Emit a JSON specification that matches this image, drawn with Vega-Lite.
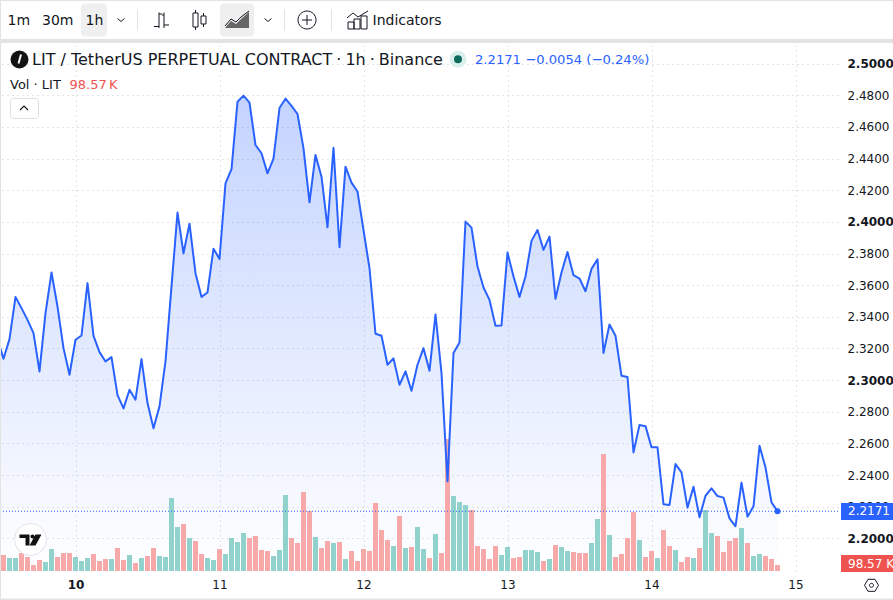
{
"$schema":"https://vega.github.io/schema/vega-lite/v6.json",
"width":838,"height":573,
"autosize":{"type":"none"},
"padding":{"left":0,"top":0,"right":55,"bottom":27},
"background":"#ffffff",
"config":{"view":{"stroke":null},"font":"DejaVu Sans","text":{"font":"DejaVu Sans"}},
"data":{"values":[
{"t":"2026-01-09T11:00Z","p":2.3259},
{"t":"2026-01-09T12:00Z","p":2.3135,"v":263,"s":"d"},{"t":"2026-01-09T13:00Z","p":2.3259,"v":214,"s":"u"},{"t":"2026-01-09T14:00Z","p":2.3526,"v":214,"s":"u"},{"t":"2026-01-09T15:00Z","p":2.3455,"v":296,"s":"d"},{"t":"2026-01-09T16:00Z","p":2.3381,"v":230,"s":"d"},{"t":"2026-01-09T17:00Z","p":2.3297,"v":99,"s":"d"},{"t":"2026-01-09T18:00Z","p":2.3055,"v":181,"s":"d"},{"t":"2026-01-09T19:00Z","p":2.3423,"v":148,"s":"u"},{"t":"2026-01-09T20:00Z","p":2.368,"v":361,"s":"u"},{"t":"2026-01-09T21:00Z","p":2.3465,"v":230,"s":"d"},{"t":"2026-01-09T22:00Z","p":2.3202,"v":296,"s":"d"},{"t":"2026-01-09T23:00Z","p":2.3034,"v":296,"s":"d"},
{"t":"2026-01-10T00:00Z","p":2.3255,"v":230,"s":"u"},{"t":"2026-01-10T01:00Z","p":2.3282,"v":164,"s":"u"},{"t":"2026-01-10T02:00Z","p":2.3613,"v":214,"s":"u"},{"t":"2026-01-10T03:00Z","p":2.328,"v":279,"s":"d"},{"t":"2026-01-10T04:00Z","p":2.3177,"v":164,"s":"d"},{"t":"2026-01-10T05:00Z","p":2.3118,"v":197,"s":"d"},{"t":"2026-01-10T06:00Z","p":2.3145,"v":197,"s":"u"},{"t":"2026-01-10T07:00Z","p":2.2905,"v":378,"s":"d"},{"t":"2026-01-10T08:00Z","p":2.2821,"v":181,"s":"d"},{"t":"2026-01-10T09:00Z","p":2.2939,"v":263,"s":"u"},{"t":"2026-01-10T10:00Z","p":2.2876,"v":131,"s":"d"},{"t":"2026-01-10T11:00Z","p":2.3133,"v":214,"s":"u"},{"t":"2026-01-10T12:00Z","p":2.2855,"v":246,"s":"d"},{"t":"2026-01-10T13:00Z","p":2.2695,"v":378,"s":"d"},{"t":"2026-01-10T14:00Z","p":2.2834,"v":246,"s":"u"},{"t":"2026-01-10T15:00Z","p":2.3118,"v":230,"s":"u"},{"t":"2026-01-10T16:00Z","p":2.3592,"v":1199,"s":"u"},{"t":"2026-01-10T17:00Z","p":2.4059,"v":723,"s":"u"},{"t":"2026-01-10T18:00Z","p":2.3802,"v":772,"s":"d"},{"t":"2026-01-10T19:00Z","p":2.3989,"v":542,"s":"u"},{"t":"2026-01-10T20:00Z","p":2.3676,"v":493,"s":"d"},{"t":"2026-01-10T21:00Z","p":2.3526,"v":279,"s":"d"},{"t":"2026-01-10T22:00Z","p":2.3554,"v":214,"s":"u"},{"t":"2026-01-10T23:00Z","p":2.3831,"v":181,"s":"u"},
{"t":"2026-01-11T00:00Z","p":2.3766,"v":361,"s":"d"},{"t":"2026-01-11T01:00Z","p":2.4244,"v":279,"s":"u"},{"t":"2026-01-11T02:00Z","p":2.4333,"v":542,"s":"u"},{"t":"2026-01-11T03:00Z","p":2.476,"v":476,"s":"u"},{"t":"2026-01-11T04:00Z","p":2.4798,"v":624,"s":"u"},{"t":"2026-01-11T05:00Z","p":2.4754,"v":542,"s":"d"},{"t":"2026-01-11T06:00Z","p":2.4486,"v":575,"s":"d"},{"t":"2026-01-11T07:00Z","p":2.4434,"v":345,"s":"d"},{"t":"2026-01-11T08:00Z","p":2.4307,"v":329,"s":"d"},{"t":"2026-01-11T09:00Z","p":2.44,"v":246,"s":"u"},{"t":"2026-01-11T10:00Z","p":2.472,"v":345,"s":"u"},{"t":"2026-01-11T11:00Z","p":2.4779,"v":1249,"s":"u"},{"t":"2026-01-11T12:00Z","p":2.4733,"v":542,"s":"d"},{"t":"2026-01-11T13:00Z","p":2.4682,"v":460,"s":"d"},{"t":"2026-01-11T14:00Z","p":2.4465,"v":1298,"s":"d"},{"t":"2026-01-11T15:00Z","p":2.4124,"v":986,"s":"d"},{"t":"2026-01-11T16:00Z","p":2.4423,"v":559,"s":"u"},{"t":"2026-01-11T17:00Z","p":2.4286,"v":378,"s":"d"},{"t":"2026-01-11T18:00Z","p":2.3966,"v":493,"s":"d"},{"t":"2026-01-11T19:00Z","p":2.4469,"v":460,"s":"u"},{"t":"2026-01-11T20:00Z","p":2.384,"v":476,"s":"d"},{"t":"2026-01-11T21:00Z","p":2.4349,"v":197,"s":"u"},{"t":"2026-01-11T22:00Z","p":2.4248,"v":329,"s":"d"},{"t":"2026-01-11T23:00Z","p":2.4192,"v":164,"s":"d"},
{"t":"2026-01-12T00:00Z","p":2.3949,"v":361,"s":"d"},{"t":"2026-01-12T01:00Z","p":2.3707,"v":329,"s":"d"},{"t":"2026-01-12T02:00Z","p":2.3293,"v":1117,"s":"d"},{"t":"2026-01-12T03:00Z","p":2.328,"v":674,"s":"d"},{"t":"2026-01-12T04:00Z","p":2.3097,"v":509,"s":"d"},{"t":"2026-01-12T05:00Z","p":2.3137,"v":411,"s":"u"},{"t":"2026-01-12T06:00Z","p":2.297,"v":904,"s":"d"},{"t":"2026-01-12T07:00Z","p":2.3055,"v":378,"s":"u"},{"t":"2026-01-12T08:00Z","p":2.2933,"v":394,"s":"d"},{"t":"2026-01-12T09:00Z","p":2.3097,"v":723,"s":"u"},{"t":"2026-01-12T10:00Z","p":2.3202,"v":361,"s":"u"},{"t":"2026-01-12T11:00Z","p":2.3059,"v":214,"s":"d"},{"t":"2026-01-12T12:00Z","p":2.3415,"v":608,"s":"u"},{"t":"2026-01-12T13:00Z","p":2.3044,"v":296,"s":"d"},{"t":"2026-01-12T14:00Z","p":2.236,"v":2168,"s":"d"},{"t":"2026-01-12T15:00Z","p":2.3171,"v":1232,"s":"u"},{"t":"2026-01-12T16:00Z","p":2.3238,"v":1134,"s":"u"},{"t":"2026-01-12T17:00Z","p":2.4002,"v":1084,"s":"u"},{"t":"2026-01-12T18:00Z","p":2.3964,"v":1002,"s":"d"},{"t":"2026-01-12T19:00Z","p":2.3718,"v":411,"s":"d"},{"t":"2026-01-12T20:00Z","p":2.3585,"v":361,"s":"d"},{"t":"2026-01-12T21:00Z","p":2.3507,"v":197,"s":"d"},{"t":"2026-01-12T22:00Z","p":2.3343,"v":411,"s":"d"},{"t":"2026-01-12T23:00Z","p":2.3345,"v":263,"s":"u"},
{"t":"2026-01-13T00:00Z","p":2.3806,"v":394,"s":"u"},{"t":"2026-01-13T01:00Z","p":2.3655,"v":214,"s":"d"},{"t":"2026-01-13T02:00Z","p":2.3526,"v":230,"s":"d"},{"t":"2026-01-13T03:00Z","p":2.3655,"v":345,"s":"u"},{"t":"2026-01-13T04:00Z","p":2.388,"v":345,"s":"u"},{"t":"2026-01-13T05:00Z","p":2.3949,"v":312,"s":"u"},{"t":"2026-01-13T06:00Z","p":2.3823,"v":164,"s":"d"},{"t":"2026-01-13T07:00Z","p":2.3907,"v":197,"s":"u"},{"t":"2026-01-13T08:00Z","p":2.3514,"v":427,"s":"d"},{"t":"2026-01-13T09:00Z","p":2.368,"v":394,"s":"u"},{"t":"2026-01-13T10:00Z","p":2.381,"v":329,"s":"u"},{"t":"2026-01-13T11:00Z","p":2.3663,"v":312,"s":"d"},{"t":"2026-01-13T12:00Z","p":2.3642,"v":296,"s":"d"},{"t":"2026-01-13T13:00Z","p":2.3562,"v":296,"s":"d"},{"t":"2026-01-13T14:00Z","p":2.3703,"v":460,"s":"u"},{"t":"2026-01-13T15:00Z","p":2.3764,"v":854,"s":"u"},{"t":"2026-01-13T16:00Z","p":2.3171,"v":1922,"s":"d"},{"t":"2026-01-13T17:00Z","p":2.3352,"v":591,"s":"u"},{"t":"2026-01-13T18:00Z","p":2.328,"v":230,"s":"d"},{"t":"2026-01-13T19:00Z","p":2.3027,"v":279,"s":"d"},{"t":"2026-01-13T20:00Z","p":2.3019,"v":542,"s":"d"},{"t":"2026-01-13T21:00Z","p":2.2543,"v":969,"s":"d"},{"t":"2026-01-13T22:00Z","p":2.2716,"v":509,"s":"u"},{"t":"2026-01-13T23:00Z","p":2.2709,"v":230,"s":"d"},
{"t":"2026-01-14T00:00Z","p":2.2575,"v":329,"s":"d"},{"t":"2026-01-14T01:00Z","p":2.2575,"v":214,"s":"u"},{"t":"2026-01-14T02:00Z","p":2.2215,"v":674,"s":"d"},{"t":"2026-01-14T03:00Z","p":2.2211,"v":411,"s":"d"},{"t":"2026-01-14T04:00Z","p":2.2469,"v":345,"s":"u"},{"t":"2026-01-14T05:00Z","p":2.2417,"v":148,"s":"d"},{"t":"2026-01-14T06:00Z","p":2.2194,"v":230,"s":"d"},{"t":"2026-01-14T07:00Z","p":2.2326,"v":214,"s":"u"},{"t":"2026-01-14T08:00Z","p":2.2133,"v":378,"s":"d"},{"t":"2026-01-14T09:00Z","p":2.2269,"v":1002,"s":"u"},{"t":"2026-01-14T10:00Z","p":2.2316,"v":624,"s":"u"},{"t":"2026-01-14T11:00Z","p":2.2267,"v":575,"s":"d"},{"t":"2026-01-14T12:00Z","p":2.2257,"v":312,"s":"d"},{"t":"2026-01-14T13:00Z","p":2.2126,"v":493,"s":"d"},{"t":"2026-01-14T14:00Z","p":2.2076,"v":542,"s":"d"},{"t":"2026-01-14T15:00Z","p":2.2352,"v":706,"s":"u"},{"t":"2026-01-14T16:00Z","p":2.2137,"v":460,"s":"d"},{"t":"2026-01-14T17:00Z","p":2.2202,"v":246,"s":"u"},{"t":"2026-01-14T18:00Z","p":2.2585,"v":279,"s":"u"},{"t":"2026-01-14T19:00Z","p":2.2448,"v":246,"s":"d"},{"t":"2026-01-14T20:00Z","p":2.2227,"v":197,"s":"d"},{"t":"2026-01-14T21:00Z","p":2.2171,"v":98.57,"s":"d"}
]},
"encoding":{
 "x":{"field":"t","type":"temporal","title":null,
  "scale":{"type":"utc","domain":["2026-01-09T11:25:00Z","2026-01-15T07:05:00Z"],"padding":0,"nice":false},
  "axis":{"labelExpr":"'' + utcdate(datum.value)","tickCount":{"interval":"day","step":1},"ticks":false,"domain":false,"labelPadding":6,"labelFontSize":12,"labelFont":"DejaVu Sans","labelColor":"#131722","labelFontWeight":{"condition":{"test":"utcdate(datum.value)==10","value":"bold"},"value":"normal"},"grid":true,"gridDash":[1,4],"gridColor":"#c8cbd2","labelOverlap":false,"labelFlush":false}}
},
"layer":[
 {"mark":{"type":"area","clip":true,"color":{"gradient":"linear","x1":0,"y1":0,"x2":0,"y2":1,"stops":[{"offset":0,"color":"rgba(41,98,255,0.28)"},{"offset":1,"color":"rgba(41,98,255,0)"}]}},
  "encoding":{"y":{"field":"p","type":"quantitative","title":null,"scale":{"domain":[2.17807,2.54027],"nice":false,"zero":false},
    "axis":{"orient":"right","values":[2.2,2.22,2.24,2.26,2.28,2.3,2.32,2.34,2.36,2.38,2.4,2.42,2.44,2.46,2.48,2.5],"format":".4f","ticks":false,"domain":false,"labelPadding":9,"labelFontSize":12,"labelFont":"DejaVu Sans","labelColor":"#131722","labelFontWeight":{"condition":{"test":"round(datum.value*1000)%100==0","value":"bold"},"value":"normal"},"grid":true,"gridDash":[1,4],"gridColor":"#c8cbd2","labelOverlap":false}},
   "y2":{"datum":2.17807}}},
 {"transform":[{"filter":"isValid(datum.v)"}],
  "mark":{"type":"bar","size":5},
  "encoding":{"y":{"field":"v","type":"quantitative","title":null,"axis":null,"scale":{"domain":[0,9381],"range":[571,0],"nice":false}},
   "color":{"field":"s","type":"nominal","legend":null,"scale":{"domain":["u","d"],"range":["#92d2cc","#f7a8a8"]}}}},
 {"encoding":{"y":{"field":"p","type":"quantitative","title":null,"axis":null,"scale":{"domain":[2.17807,2.54027],"nice":false,"zero":false}}},
  "layer":[
   {"data":{"values":[{"t":"2026-01-09T11:25Z","t2":"2026-01-15T07:05Z","p":2.2171}],"format":{"parse":{"t":"date","t2":"date"}}},
    "mark":{"type":"rule","color":"#2962ff","strokeWidth":1,"strokeDash":[1,2]},"encoding":{"x2":{"field":"t2"}}},
   {"mark":{"type":"line","clip":true,"color":"#2962ff","strokeWidth":2,"strokeJoin":"round"}},
   {"data":{"values":[{"t":"2026-01-14T21:00Z","p":2.2171}]},"mark":{"type":"point","shape":"circle","size":36,"filled":true,"color":"#2962ff","opacity":1}},
   {"data":{"values":[{"t":"2026-01-09T11:25Z","t2":"2026-01-15T16:15Z","p":2.54027,"p2":2.51372}],"format":{"parse":{"t":"date","t2":"date"}}},
    "mark":{"type":"rect","color":"#ffffff"},"encoding":{"x2":{"field":"t2"},"y2":{"field":"p2"}}},
   {"data":{"values":[
     {"t":"2026-01-09T11:25Z","t2":"2026-01-15T16:15Z","p":2.51562,"p2":2.51309},
     {"t":"2026-01-09T11:25Z","t2":"2026-01-15T16:15Z","p":2.54027,"p2":2.53964},
     {"t":"2026-01-09T11:25Z","t2":"2026-01-15T16:15Z","p":2.16195,"p2":2.16101},
     {"t":"2026-01-09T11:25Z","t2":"2026-01-09T11:35Z","p":2.54027,"p2":2.16101}],"format":{"parse":{"t":"date","t2":"date"}}},
    "mark":{"type":"rect","color":"#e3e3e3"},"encoding":{"x2":{"field":"t2"},"y2":{"field":"p2"}}},
   {"data":{"values":[
     {"t":"2026-01-10T00:55Z","t2":"2026-01-10T05:15Z","p":2.53806,"p2":2.5172},
     {"t":"2026-01-11T00:05Z","t2":"2026-01-11T05:45Z","p":2.53806,"p2":2.5172}],"format":{"parse":{"t":"date","t2":"date"}}},
    "mark":{"type":"rect","color":"#efefef","cornerRadius":4},"encoding":{"x2":{"field":"t2"},"y2":{"field":"p2"}}},
   {"data":{"values":[
     {"t":"2026-01-10T10:20Z","p":2.53458,"p2":2.52067},
     {"t":"2026-01-11T10:50Z","p":2.53458,"p2":2.52067},
     {"t":"2026-01-11T18:40Z","p":2.53458,"p2":2.52067}]},
    "mark":{"type":"rule","color":"#e0e3eb","strokeWidth":1},"encoding":{"y2":{"field":"p2"}}},
   {"data":{"values":[{"t":"2026-01-09T13:10Z","t2":"2026-01-09T17:50Z","p":2.47801,"p2":2.46536}],"format":{"parse":{"t":"date","t2":"date"}}},
    "mark":{"type":"rect","fill":"#ffffff","stroke":"#dcdfe6","strokeWidth":1,"cornerRadius":3},"encoding":{"x2":{"field":"t2"},"y2":{"field":"p2"}}},
   {"data":{"values":[{"t":"2026-01-15T07:35Z","t2":"2026-01-15T16:15Z","p":2.22232,"p2":2.21157}],"format":{"parse":{"t":"date","t2":"date"}}},
    "mark":{"type":"rect","color":"#2962ff"},"encoding":{"x2":{"field":"t2"},"y2":{"field":"p2"}}},
   {"data":{"values":[{"t":"2026-01-15T07:35Z","t2":"2026-01-15T16:15Z","p":2.18945,"p2":2.1787}],"format":{"parse":{"t":"date","t2":"date"}}},
    "mark":{"type":"rect","color":"#ef5350"},"encoding":{"x2":{"field":"t2"},"y2":{"field":"p2"}}},
   {"data":{"values":[
     {"t":"2026-01-09T12:40Z","p":2.527,"label":"1m"},
     {"t":"2026-01-09T18:25Z","p":2.527,"label":"30m"},
     {"t":"2026-01-10T01:40Z","p":2.527,"label":"1h"},
     {"t":"2026-01-12T01:30Z","p":2.527,"label":"Indicators"}]},
    "mark":{"type":"text","align":"left","baseline":"middle","fontSize":14,"font":"DejaVu Sans","color":"#131722"},"encoding":{"text":{"field":"label"}}},
   {"data":{"values":[{"t":"2026-01-09T13:05Z","p":2.48654,"label":"Vol · LIT"}]},
    "mark":{"type":"text","align":"left","baseline":"middle","fontSize":13,"font":"DejaVu Sans","color":"#131722"},"encoding":{"text":{"field":"label"}}},
   {"data":{"values":[{"t":"2026-01-09T16:45Z","p":2.50235,"label":"LIT / TetherUS PERPETUAL CONTRACT\u2005·\u20051h\u2005·\u2005Binance"}]},
    "mark":{"type":"text","align":"left","baseline":"middle","fontSize":16,"font":"DejaVu Sans","color":"#131722"},"encoding":{"text":{"field":"label"}}},
   {"data":{"values":[{"t":"2026-01-12T18:35Z","p":2.50235,"label":"2.2171 −0.0054 (−0.24%)"}]},
    "mark":{"type":"text","align":"left","baseline":"middle","fontSize":13.15,"font":"DejaVu Sans","color":"#2962ff"},"encoding":{"text":{"field":"label"}}},
   {"data":{"values":[{"t":"2026-01-09T23:00Z","p":2.48654,"label":"98.57\u2006K"}]},
    "mark":{"type":"text","align":"left","baseline":"middle","fontSize":13,"font":"DejaVu Sans","color":"#ef5350"},"encoding":{"text":{"field":"label"}}},
   {"data":{"values":[{"t":"2026-01-15T08:45Z","p":2.2171,"label":"2.2171"},{"t":"2026-01-15T08:45Z","p":2.18407,"label":"98.57 K"}]},
    "mark":{"type":"text","align":"left","baseline":"middle","fontSize":12,"font":"DejaVu Sans","color":"#ffffff"},"encoding":{"text":{"field":"label"}}},
   {"data":{"values":[{"t":"2026-01-10T07:35Z","p":2.52763},{"t":"2026-01-11T08:05Z","p":2.52763}]},
    "mark":{"type":"point","shape":"M-3.5 -1.5L0 1.5L3.5 -1.5","size":4,"filled":false,"stroke":"#131722","strokeWidth":1,"opacity":1}},
   {"data":{"values":[{"t":"2026-01-10T14:20Z","p":2.52763}]},
    "mark":{"type":"point","shape":"M-7.5 6.5H-2.5M-2.5 -7.5V8M-2.5 -6H0.5M2.5 -7.5V8M2.5 -5H0.5M2.5 5H7.5","size":4,"filled":false,"stroke":"#131722","strokeWidth":1,"opacity":1}},
   {"data":{"values":[{"t":"2026-01-10T20:40Z","p":2.52763}]},
    "mark":{"type":"point","shape":"M-6.5 -7H-1.5V7H-6.5ZM-4 -10V-7M-4 7V10M1.5 -4H6.5V4H1.5ZM4 -7V-4M4 4V7","size":4,"filled":false,"stroke":"#131722","strokeWidth":1,"opacity":1}},
   {"data":{"values":[{"t":"2026-01-11T02:55Z","p":2.52763}]},
    "mark":{"type":"point","shape":"M-12 8L-6 1L-1 4L4 -1L12 -8V8Z","size":4,"filled":true,"fill":"#666666","stroke":null,"opacity":1}},
   {"data":{"values":[{"t":"2026-01-11T02:55Z","p":2.52763}]},
    "mark":{"type":"point","shape":"M-12 6L-6 -1L-1 2L4 -3L12 -9","size":4,"filled":false,"stroke":"#131722","strokeWidth":1,"opacity":1}},
   {"data":{"values":[{"t":"2026-01-11T14:35Z","p":2.52763}]},
    "mark":{"type":"point","shape":"M-9 0A9 9 0 1 1 9 0A9 9 0 1 1 -9 0ZM-5 0H5M0 -5V5","size":4,"filled":false,"stroke":"#131722","strokeWidth":1,"opacity":1}},
   {"data":{"values":[{"t":"2026-01-11T23:05Z","p":2.52763}]},
    "mark":{"type":"point","shape":"M-10 9H-4V2H-10ZM-4 9H2V-1H-4ZM3 9H9V-4H3ZM-11 -2L-5 -7L0 -3L10 -9","size":4,"filled":false,"stroke":"#131722","strokeWidth":1,"opacity":1}},
   {"data":{"values":[{"t":"2026-01-15T12:40Z","p":2.17029}]},
    "mark":{"type":"point","shape":"M-7 0L-3.5 -6H3.5L7 0L3.5 6H-3.5ZM-2 0A2 2 0 1 1 2 0A2 2 0 1 1 -2 0Z","size":4,"filled":false,"stroke":"#131722","strokeWidth":1,"opacity":1}},
   {"data":{"values":[{"t":"2026-01-09T15:25Z","p":2.472}]},
    "mark":{"type":"point","shape":"M-4 2L0 -2L4 2","size":4,"filled":false,"stroke":"#131722","strokeWidth":1.2,"opacity":1}},
   {"data":{"values":[{"t":"2026-01-09T14:40Z","p":2.50266}]},
    "mark":{"type":"point","shape":"circle","size":324,"filled":true,"fill":"#131313","stroke":null,"opacity":1}},
   {"data":{"values":[{"t":"2026-01-09T14:40Z","p":2.50266}]},
    "mark":{"type":"point","shape":"M1.5 -5L-1 4","size":4,"filled":false,"stroke":"#ffffff","strokeWidth":2,"opacity":1}},
   {"data":{"values":[{"t":"2026-01-12T15:45Z","p":2.50279}]},
    "mark":{"type":"point","shape":"circle","size":289,"filled":true,"fill":"#d9efec","stroke":null,"opacity":1}},
   {"data":{"values":[{"t":"2026-01-12T15:45Z","p":2.50279}]},
    "mark":{"type":"point","shape":"circle","size":64,"filled":true,"fill":"#0d6b5e","stroke":null,"opacity":1}},
   {"data":{"values":[{"t":"2026-01-09T16:30Z","p":2.19925}]},
    "mark":{"type":"point","shape":"circle","size":1024,"filled":true,"fill":"#ffffff","stroke":"#e0e3eb","strokeWidth":1,"opacity":1}},
   {"data":{"values":[{"t":"2026-01-09T16:30Z","p":2.19925}]},
    "mark":{"type":"point","shape":"M-11 -5H-1V6H-5V-1.5H-11ZM5 -5H11L5 6H-1ZM0 -3A2 2 0 1 1 4 -3A2 2 0 1 1 0 -3Z","size":4,"filled":true,"fill":"#131313","stroke":null,"opacity":1}}
  ]}
],
"resolve":{"scale":{"y":"independent"}}
}
